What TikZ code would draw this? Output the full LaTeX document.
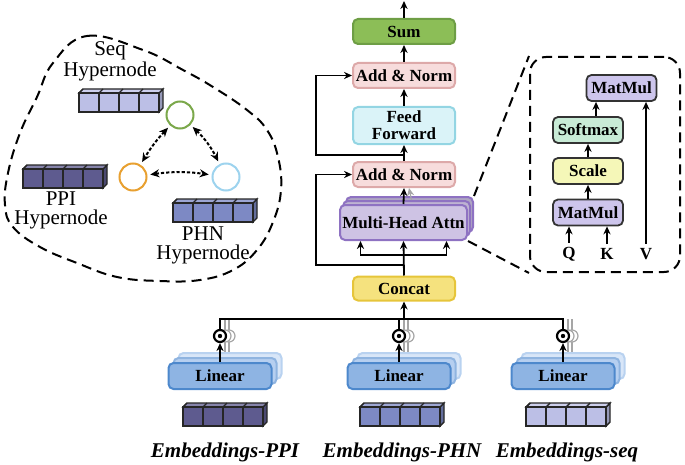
\documentclass[tikz,border=0pt]{standalone}
\usepackage{fontspec}
\setmainfont{Liberation Serif}
\usetikzlibrary{arrows.meta}

\definecolor{sumc}{HTML}{8CBE57}
\definecolor{sumd}{HTML}{6E9E45}
\definecolor{addc}{HTML}{F7DCDC}
\definecolor{addd}{HTML}{DDA9A9}
\definecolor{ffc}{HTML}{DAF3F8}
\definecolor{ffd}{HTML}{93D5E3}
\definecolor{mhac}{HTML}{CEC3E4}
\definecolor{mhad}{HTML}{8E72C2}
\definecolor{catc}{HTML}{F5E27E}
\definecolor{catd}{HTML}{E6C53A}
\definecolor{linc}{HTML}{8EB4E3}
\definecolor{lind}{HTML}{4D88CC}
\definecolor{linbc}{HTML}{B6CFF0}
\definecolor{linbd}{HTML}{8FB4E0}
\definecolor{lincc}{HTML}{D8E6F8}
\definecolor{lincd}{HTML}{B9D2F0}
\definecolor{mmc}{HTML}{CDC5EC}
\definecolor{smc}{HTML}{C8EBD6}
\definecolor{scc}{HTML}{F5F7B8}
\definecolor{ppic}{HTML}{5E5B8F}
\definecolor{phnc}{HTML}{7D89C4}
\definecolor{seqc}{HTML}{BCBFE6}
\definecolor{grn}{HTML}{7BA84B}
\definecolor{org}{HTML}{E8A030}
\definecolor{sky}{HTML}{9DD3EE}

% one embedding: four little cubes, top-left corner of the front face at (#1,#2)
\newcommand{\embbar}[3]{%
  \draw[barline, fill=#3!80!black] ({#1+80},#2) -- ++(4,-4) -- ++(0,19) -- ++(-4,4) -- cycle;
  \draw[barline, fill=#3!75!white] (#1,#2) -- ++(4,-4) -- ++(80,0) -- ++(-4,4) -- cycle;
  \foreach \i in {0,...,3} {
    \draw[barline, fill=#3] ({#1+20*\i},#2) rectangle ++(20,19);
    \draw[barline] ({#1+20*\i},#2) -- ++(4,-4);
  }%
}

\begin{document}
\begin{tikzpicture}[x=0.5pt, y=-0.5pt,
    arr/.style={-{Stealth[length=4pt,width=3.6pt]}, line width=0.9pt},
    dotarr/.style={{Stealth[length=4.5pt,width=4pt]}-{Stealth[length=4.5pt,width=4pt]},
        line width=1pt, dash pattern=on 1.6pt off 1pt, shorten <=1.5pt, shorten >=1.5pt},
    dashline/.style={line width=1pt, dash pattern=on 5pt off 3pt},
    barline/.style={line width=0.7pt, draw=black!85},
    blk/.style={draw, rounded corners=2.5pt, line width=1pt, minimum width=51pt,
        minimum height=12.5pt, inner sep=0pt, align=center,
        font=\bfseries\fontsize{8.5}{8.5}\selectfont},
    att/.style={blk, draw=black!80, line width=0.9pt, minimum width=35pt, minimum height=13pt},
    lin/.style={blk, minimum width=51.5pt, minimum height=13pt},
    hcirc/.style={circle, draw, fill=white, line width=1pt, minimum size=13.5pt, inner sep=0pt},
    odot/.style={circle, draw, fill=white, line width=1.1pt, minimum size=6pt, inner sep=0pt,
        path picture={\fill[black] (path picture bounding box.center) circle (1.1pt);}},
    ghost/.style={draw=black!35, line width=0.6pt},
    hyper/.style={align=center, inner sep=0pt, font=\fontsize{10.5}{9.5}\selectfont},
    emb/.style={inner sep=0pt, font=\bfseries\itshape\fontsize{10.5}{12}\selectfont}]

\useasboundingbox (0,0) rectangle (685,465);

% hypergraph
\draw[dashline] plot[smooth cycle, tension=0.7] coordinates {(53,63) (87,36) (143,50) (183,70)
    (213,87) (247,110) (267,130) (278,157) (281,190) (273,222) (257,250) (233,270) (200,280)
    (160,281) (117,277) (77,263) (40,247) (13,227) (5,205) (8,173) (20,133) (37,97)};
\embbar{79}{93}{seqc}
\embbar{23}{169}{ppic}
\embbar{173}{203}{phnc}
\node[hyper] (lSeq) at (110,61) {Seq\\Hypernode};
\node[hyper] (lPPI) at (61,210) {PPI\\Hypernode};
\node[hyper] (lPHN) at (203,245) {PHN\\Hypernode};
\node[hcirc, draw=grn] (cSeq) at (180,115) {};
\node[hcirc, draw=org] (cPPI) at (133,177) {};
\node[hcirc, draw=sky] (cPHN) at (226,177) {};
\draw[dotarr] (cSeq) to[bend right=6] (cPPI);
\draw[dotarr] (cSeq) to[bend left=10] (cPHN);
\draw[dotarr] (cPPI) to[bend left=8] (cPHN);

% encoder stack
\node[blk, fill=sumc, draw=sumd] (sum) at (404,31.5) {Sum};
\node[blk, fill=addc, draw=addd] (an2) at (404,75.5) {Add \& Norm};
\node[blk, fill=ffc, draw=ffd, minimum height=18.5pt] (ff) at (404,125.5) {Feed\\Forward};
\node[blk, fill=addc, draw=addd] (an1) at (404,174.5) {Add \& Norm};
\node[blk, fill=mhac!85!black, draw=mhad, minimum width=63.5pt, minimum height=17.5pt] (mhaB2) at (409.5,214.5) {};
\node[blk, fill=mhac!92!black, draw=mhad, minimum width=63.5pt, minimum height=17.5pt] (mhaB1) at (406.5,218.5) {};
\node[blk, fill=mhac, draw=mhad, minimum width=63.5pt, minimum height=17.5pt] (mha) at (403.5,222.5) {Multi-Head Attn};
\node[blk, fill=catc, draw=catd, minimum height=12pt] (concat) at (404,288.5) {Concat};
\coordinate (out) at (404,1);
\coordinate (r2) at (404,155);
\coordinate (r1) at (404,265);
\coordinate (split) at (404,255);
\coordinate (bus) at (404,319);

\draw[arr] (sum.north) -- (out);
\draw[arr] (an2.north) -- (sum.south);
\draw[arr] (ff.north) -- (an2.south);
\draw[arr] (an1.north) -- (ff.south);
\draw[arr, ghost] ([xshift=2.5pt]mhaB1.north) -- ([xshift=2.5pt]an1.south);
\draw[arr] (mha.north) -- (an1.south);
\draw[arr] (concat.north) -- (mha.south);
\draw[arr] (split) -| ([xshift=-21.5pt]mha.south);
\draw[arr] (split) -| ([xshift=21.5pt]mha.south);
\draw[arr] (r1) -- ++(-88,0) |- (an1.west);
\draw[arr] (r2) -- ++(-88,0) |- (an2.west);

% scaled dot-product attention
\node[draw, dashline, rounded corners=8pt, minimum width=75pt, minimum height=107.5pt] (attbox) at (605,164.5) {};
\node[att, fill=mmc] (mmT) at (621.5,88) {MatMul};
\node[att, fill=smc] (soft) at (588,130) {Softmax};
\node[att, fill=scc] (scale) at (588,171) {Scale};
\node[att, fill=mmc] (mmB) at (588,212.5) {MatMul};
\node[inner sep=0pt, font=\bfseries\fontsize{8.5}{8.5}\selectfont] (q) at (569,254) {Q};
\node[inner sep=0pt, font=\bfseries\fontsize{8.5}{8.5}\selectfont] (k) at (607,254) {K};
\node[inner sep=0pt, font=\bfseries\fontsize{8.5}{8.5}\selectfont] (v) at (646,254) {V};
\draw[arr] ([yshift=2pt]q.north) -- (q.north |- mmB.south);
\draw[arr] ([yshift=2pt]k.north) -- (k.north |- mmB.south);
\draw[arr] ([yshift=2pt]v.north) -- (v.north |- mmT.south);
\draw[arr] (mmB.north) -- (scale.south);
\draw[arr] (scale.north) -- (soft.south);
\draw[arr] ([xshift=4pt]soft.north) -- ([xshift=4pt]soft.north |- mmT.south);
\draw[dashline] (mhaB2.north east) -- (attbox.north west);
\draw[dashline] (mha.south east) -- (attbox.south west);

% inputs
\foreach \x/\n in {220/PPI, 399/PHN, 563/Seq} {
  \foreach \d in {9,5} {
    \draw[ghost] (\x+\d,319) -- (\x+\d,357);
    \node[odot, ghost, path picture={}] at (\x+\d,336) {};
  }
  \node[lin, fill=lincc, draw=lincd] at (\x+10,366) {};
  \node[lin, fill=linbc, draw=linbd] at (\x+5,371) {};
  \node[lin, fill=linc, draw=lind] (lin\n) at (\x,376) {Linear};
  \node[odot] (o\n) at (\x,336) {};
  \draw[arr] (lin\n.north) -- (o\n.south);
}
\draw[line width=0.9pt] (oPPI.north) -- (oPPI.north |- bus) -- (oSeq.north |- bus) -- (oSeq.north);
\draw[line width=0.9pt] (oPHN.north) -- (oPHN.north |- bus);
\draw[arr] (bus) -- (concat.south);
\embbar{183}{407}{ppic}
\embbar{360}{407}{phnc}
\embbar{526}{407}{seqc}
\node[emb] (ePPI) at (225,452) {Embeddings-PPI};
\node[emb] (ePHN) at (402,452) {Embeddings-PHN};
\node[emb] (eSeq) at (567,452) {Embeddings-seq};
\end{tikzpicture}
\end{document}
